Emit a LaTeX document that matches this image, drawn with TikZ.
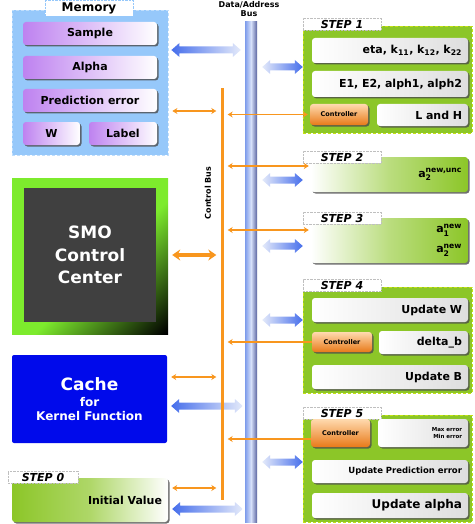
\documentclass[tikz,border=0pt]{standalone}
\usepackage{fontspec}
\usepackage{amsmath}
\setmainfont{DejaVu Sans}
\usetikzlibrary{arrows.meta,shadows,calc}

\definecolor{memblue}{RGB}{150,200,250}
\definecolor{memviolet}{RGB}{190,130,240}
\definecolor{stepgreen}{RGB}{140,198,40}
\definecolor{smogreen}{RGB}{125,235,45}
\definecolor{smogray}{RGB}{64,64,64}
\definecolor{cacheblue}{RGB}{0,10,235}
\definecolor{busorange}{RGB}{248,150,30}
\definecolor{busblue}{RGB}{125,155,235}
\definecolor{busdark}{RGB}{90,100,160}
\definecolor{buslight}{RGB}{215,225,250}
\definecolor{arrowblue}{RGB}{70,110,235}
\definecolor{arrowpale}{RGB}{228,234,250}
\definecolor{ctrltop}{RGB}{255,218,175}
\definecolor{ctrlbot}{RGB}{232,122,25}

\pgfdeclarehorizontalshading{smoshade}{100bp}{color(0bp)=(smogreen); color(55bp)=(smogreen); color(85bp)=(black); color(100bp)=(black)}

% fat two-headed bus arrow between two points at the same height
\newcommand{\fatarrow}[4]{%
  \shade[left color=#3,right color=#4] let \p1=(#1), \p2=(#2) in
    (\x1,\y1) -- (\x1+8pt,\y1+7pt) -- (\x1+8pt,\y1+3.5pt) -- (\x2-8pt,\y1+3.5pt)
    -- (\x2-8pt,\y1+7pt) -- (\x2,\y1) -- (\x2-8pt,\y1-7pt) -- (\x2-8pt,\y1-3.5pt)
    -- (\x1+8pt,\y1-3.5pt) -- (\x1+8pt,\y1-7pt) -- cycle;}

\begin{document}
\begin{tikzpicture}[x=1pt,y=-1pt,>={Stealth[length=5pt,width=6pt]},
  shadowed/.style={drop shadow={shadow xshift=1.5pt,shadow yshift=-1.5pt,fill=black!70,opacity=0.8}},
  memitem/.style={shade,left color=memviolet,right color=white,rounded corners=3pt,shadowed,
    inner sep=0,minimum height=23pt,font=\bfseries\fontsize{11}{13}\selectfont},
  greybox/.style={shade,left color=white,right color=black!13,rounded corners=3pt,shadowed,
    inner xsep=6pt,inner ysep=0,align=right,font=\bfseries\fontsize{11}{13}\selectfont},
  greenbox/.style={greybox,right color=stepgreen,middle color=stepgreen!60!white},
  ctrlbox/.style={shade,top color=ctrltop,bottom color=ctrlbot,rounded corners=3pt,shadowed,
    inner sep=0,font=\bfseries\fontsize{6.5}{8}\selectfont},
  steppanel/.style={fill=stepgreen,draw=stepgreen!50!yellow,densely dashed,inner sep=0,
    minimum width=169pt},
  steptab/.style={fill=white,draw=black!25,densely dotted,inner sep=0,minimum height=12pt,
    minimum width=78pt,font=\bfseries\itshape\fontsize{11}{13}\selectfont},
  ctrl/.style={busorange,line width=1.3pt,shorten <=4pt,shorten >=4pt}]
\useasboundingbox (0,0) rectangle (474,524);

% memory
\node[fill=memblue,draw=memblue!60!white,densely dashed,inner sep=0,minimum width=156pt,minimum height=145pt,anchor=north west] (mem) at (12,10) {};
\node[fill=white,draw=memblue,densely dotted,inner sep=0,minimum width=88pt,minimum height=16pt,font=\bfseries\fontsize{12}{14}\selectfont] (memlbl) at (89,8) {Memory};
\node[memitem,minimum width=134pt] (sample) at (90,33.5) {Sample};
\node[memitem,minimum width=134pt] (alpha) at (90,67.5) {Alpha};
\node[memitem,minimum width=134pt] (prederr) at (90,100.5) {Prediction error};
\node[memitem,minimum width=57pt] (w) at (51.5,133.5) {W};
\node[memitem,minimum width=68pt] (label) at (123,133.5) {Label};

% control center and cache
\node[shade,shading=smoshade,shading angle=-45,inner sep=0,minimum width=156pt,minimum height=156pt] (smo) at (90,256) {};
\node[fill=smogray,inner sep=0,minimum width=132pt,minimum height=134pt,text=white,align=center,font=\bfseries\fontsize{17}{22.5}\selectfont] (smoc) at (90,255) {SMO\\Control\\Center};
\node[fill=cacheblue,rounded corners=2pt,inner sep=0,minimum width=155pt,minimum height=88pt,text=white,align=center,font=\bfseries\fontsize{12}{14}\selectfont] (cache) at (89.5,399) {{\fontsize{17}{20}\selectfont Cache}\\[2pt]for\\Kernel Function};

% step 0
\node[greenbox,text width=144pt,minimum height=44pt,left color=stepgreen,right color=white,middle color=stepgreen!70!white] (s0) at (90,500) {Initial Value};
\node[steptab,minimum width=70pt] (s0tab) at (43,477) {STEP 0};

% buses
\node[shade,left color=busblue,right color=busdark,middle color=buslight,inner sep=0,minimum width=12pt,minimum height=500pt] (dbus) at (251,272) {};
\node[align=center,font=\bfseries\fontsize{8}{9.5}\selectfont] (dbuslbl) at (249,9) {Data/Address\\Bus};

% step 1
\node[steppanel,minimum height=107pt] (s1) at (387.5,79.5) {};
\node[steptab] (s1tab) at (342,24) {STEP 1};
\node[greybox,text width=144pt,minimum height=25pt] (eta) at (390,50.5) {eta, k\textsubscript{11}, k\textsubscript{12}, k\textsubscript{22}};
\node[greybox,text width=144pt,minimum height=26pt] (e1) at (390,84) {E1, E2, alph1, alph2};
\node[ctrlbox,minimum width=58pt,minimum height=21pt] (ctrl1) at (339,114.5) {Controller};
\node[greybox,text width=79pt,minimum height=22pt] (lh) at (422.5,115) {L and H};

% step 2 and 3
\node[greenbox,text width=145pt,minimum height=35pt] (s2) at (389.5,174.5) {$\text{a}_{\text{2}}^{\text{new,unc}}$};
\node[steptab] (s2tab) at (342,157) {STEP 2};
\node[greenbox,text width=145pt,minimum height=45pt] (s3) at (389.5,240.5) {$\text{a}_{\text{1}}^{\text{new}}$\\[7pt]$\text{a}_{\text{2}}^{\text{new}}$};
\node[steptab] (s3tab) at (342,218) {STEP 3};

% step 4
\node[steppanel,minimum height=106pt] (s4) at (387.5,340) {};
\node[steptab] (s4tab) at (342,285.5) {STEP 4};
\node[greybox,text width=144pt,minimum height=24pt] (updw) at (390,310) {Update W};
\node[ctrlbox,minimum width=60pt,minimum height=20pt] (ctrl4) at (342,342) {Controller};
\node[greybox,text width=77pt,minimum height=23pt] (deltab) at (423.5,342.5) {delta\_b};
\node[greybox,text width=144pt,minimum height=24pt] (updb) at (390,377) {Update B};

% step 5
\node[steppanel,minimum height=107pt] (s5) at (387.5,468.5) {};
\node[steptab] (s5tab) at (342,413) {STEP 5};
\node[ctrlbox,minimum width=59pt,minimum height=28pt] (ctrl5) at (340.5,433) {Controller};
\node[greybox,text width=78pt,minimum height=28pt,font=\bfseries\fontsize{5.5}{7}\selectfont] (maxmin) at (423,433) {Max error\\Min error};
\node[greybox,text width=144pt,minimum height=23pt,font=\bfseries\fontsize{8.5}{10}\selectfont] (upde) at (390,471.5) {Update Prediction error};
\node[greybox,text width=144pt,minimum height=25pt,font=\bfseries\fontsize{12}{14}\selectfont] (upda) at (390,505.5) {Update alpha};

% data/address arrows
\fatarrow{$(mem.east |- 0,50)+(3,0)$}{$(dbus.west |- 0,50)+(-4,0)$}{arrowblue}{arrowpale}
\fatarrow{$(cache.east |- 0,406)+(4,0)$}{$(dbus.west |- 0,406)+(-2,0)$}{arrowblue}{arrowpale}
\fatarrow{$(s0.east |- 0,509)+(4,0)$}{$(dbus.west |- 0,509)+(-2,0)$}{arrowblue}{arrowpale}
\fatarrow{$(dbus.east |- 0,67)+(5,0)$}{$(s1.west |- 0,67)$}{arrowpale}{arrowblue}
\fatarrow{$(dbus.east |- 0,180)+(5,0)$}{$(s2.west |- 0,180)+(-8,0)$}{arrowpale}{arrowblue}
\fatarrow{$(dbus.east |- 0,246)+(5,0)$}{$(s3.west |- 0,246)+(-8,0)$}{arrowpale}{arrowblue}
\fatarrow{$(dbus.east |- 0,320)+(5,0)$}{$(s4.west |- 0,320)$}{arrowpale}{arrowblue}
\fatarrow{$(dbus.east |- 0,462)+(5,0)$}{$(s5.west |- 0,462)$}{arrowpale}{arrowblue}

% control bus
\node[fill=busorange,inner sep=0,minimum width=3pt,minimum height=412pt] (cbus) at (222,294) {};
\node[rotate=90,font=\bfseries\fontsize{8}{9}\selectfont] (cbuslbl) at (208,193) {Control Bus};
\draw[ctrl,<->] (mem.east |- 0,111) -- (cbus.west |- 0,111);
\draw[ctrl,line width=3.5pt,>={Stealth[length=8pt,width=11pt]},<->] (smo.east |- 0,255) -- (cbus.west |- 0,255);
\draw[ctrl,<->] (cache.east |- 0,377) -- (cbus.west |- 0,377);
\draw[ctrl,<->] (s0.east |- 0,488) -- (cbus.west |- 0,488);
\draw[ctrl,<->,shorten >=2pt] (cbus.east |- ctrl1.west) -- (ctrl1.west);
\draw[ctrl,<->,shorten >=2pt] (cbus.east |- 0,166) -- (s2.west |- 0,166);
\draw[ctrl,<->,shorten >=2pt] (cbus.east |- 0,230) -- (s3.west |- 0,230);
\draw[ctrl,<-,shorten >=0pt] (cbus.east |- ctrl4.west) -- (ctrl4.west);
\draw[ctrl,<-,shorten >=0pt] (cbus.east |- 0,439) -- (ctrl5.west |- 0,439);
\end{tikzpicture}
\end{document}
